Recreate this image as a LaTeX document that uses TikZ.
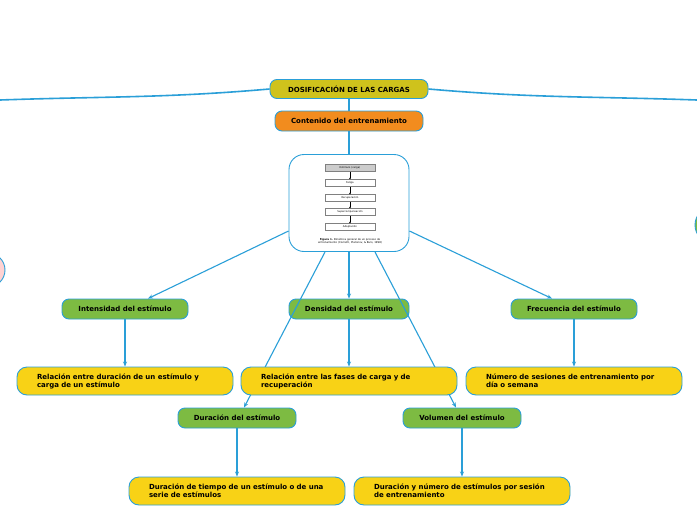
\documentclass[tikz,border=0pt]{standalone}
\usepackage{fontspec}
\setmainfont{DejaVu Sans}
\usetikzlibrary{arrows.meta}
\definecolor{bl}{HTML}{2A9FD8}
\definecolor{rootc}{HTML}{CFC21C}
\definecolor{orc}{HTML}{F28C1E}
\definecolor{grc}{HTML}{7DBB42}
\definecolor{yec}{HTML}{F8D216}
\tikzset{
 base/.style={draw=bl,line width=0.9pt,rounded corners=7pt,font=\bfseries\fontsize{7}{8}\selectfont,inner sep=0pt,align=center},
 rootbox/.style={base,fill=rootc,minimum width=158pt,minimum height=19pt},
 orbox/.style={base,fill=orc,minimum width=148pt,minimum height=20pt},
 grbox/.style={base,fill=grc,minimum height=20pt},
 yebox/.style={base,fill=yec,minimum width=216pt,minimum height=28pt,rounded corners=10pt,align=left,text width=176pt},
 con/.style={draw=bl,line width=1.1pt},
 arr/.style={con,-{Stealth[length=5pt,width=4pt]}},
 sm/.style={draw=gray,line width=0.3pt,minimum width=50pt,minimum height=7pt,inner sep=0pt,font=\fontsize{2.5}{3}\selectfont}
}
\begin{document}
\begin{tikzpicture}[x=1pt,y=-1pt]
\useasboundingbox (0,0) rectangle (697,520);
\fill[white] (0,0) rectangle (697,520);
\coordinate (L) at (0,100);
\coordinate (R) at (697,100);
\draw[draw=bl,line width=0.9pt,fill=pink!70] (-12,270) circle (17);
\draw[draw=bl,line width=0.9pt,fill=grc] (713,225) circle (18);
\node[rootbox] (root) at (349,89) {DOSIFICACIÓN DE LAS CARGAS};
\node[orbox] (cont) at (349,121) {Contenido del entrenamiento};
\node[draw=bl,line width=0.9pt,fill=white,rounded corners=15pt,minimum width=120pt,minimum height=97pt] (img) at (349,203) {};
\node[grbox,minimum width=126pt] (int) at (125,309) {Intensidad del estímulo};
\node[grbox,minimum width=120pt] (den) at (349,309) {Densidad del estímulo};
\node[grbox,minimum width=126pt] (fre) at (574,309) {Frecuencia del estímulo};
\node[grbox,minimum width=118pt] (dur) at (237,418) {Duración del estímulo};
\node[grbox,minimum width=118pt] (vol) at (462,418) {Volumen del estímulo};
\coordinate (imgL) at (325,252);
\coordinate (imgR) at (375,252);
\draw[arr] (imgL) -- (dur.north -| 244,0);
\draw[arr] (imgR) -- (vol.north -| 456,0);
\node[yebox] (r1) at (125,381) {Relación entre duración de un estímulo y\\carga de un estímulo};
\node[yebox] (r2) at (349,381) {Relación entre las fases de carga y de\\recuperación};
\node[yebox] (r3) at (574,381) {Número de sesiones de entrenamiento por\\día o semana};
\node[yebox] (r4) at (237,491) {Duración de tiempo de un estímulo o de una\\serie de estímulos};
\node[yebox] (r5) at (462,491) {Duración y número de estímulos por sesión\\de entrenamiento};
\draw[con,line width=1.6pt] (root.west) to[out=185,in=2] (L);
\draw[con,line width=1.6pt] (root.east) to[out=-5,in=178] (R);
\draw[con] (root) -- (cont);
\draw[con] (cont) -- (img);
\draw[arr] (img.west |- 0,231) -- (int.north -| 148,0);
\draw[arr] (img.east |- 0,231) -- (fre.north -| 552,0);
\draw[arr] (img) -- (den);
\draw[arr] (int) -- (r1);
\draw[arr] (den) -- (r2);
\draw[arr] (fre) -- (r3);
\draw[arr] (dur) -- (r4);
\draw[arr] (vol) -- (r5);
% inner figure
\node[sm,fill=gray!40] (s1) at (350,168) {Estímulo (carga)};
\node[sm] (s2) at (350,183) {Fatiga};
\node[sm] (s3) at (350,198) {Recuperación};
\node[sm] (s4) at (350,212) {Supercompensación};
\node[sm] (s5) at (350,227) {Adaptación};
\foreach \a/\b in {s1/s2,s2/s3,s3/s4,s4/s5}
  \draw[line width=0.3pt,-{Stealth[length=2pt,width=2pt,round]}] (\a.south) -- (\b.north);
\node[font=\fontsize{2.6}{3.2}\selectfont,align=center] (cap) at (350,241) {\textbf{Figura 1.} Dinámica general de un proceso de\\entrenamiento (Cometti, Platonov, \& Bulo, 1998)};
\end{tikzpicture}
\end{document}
